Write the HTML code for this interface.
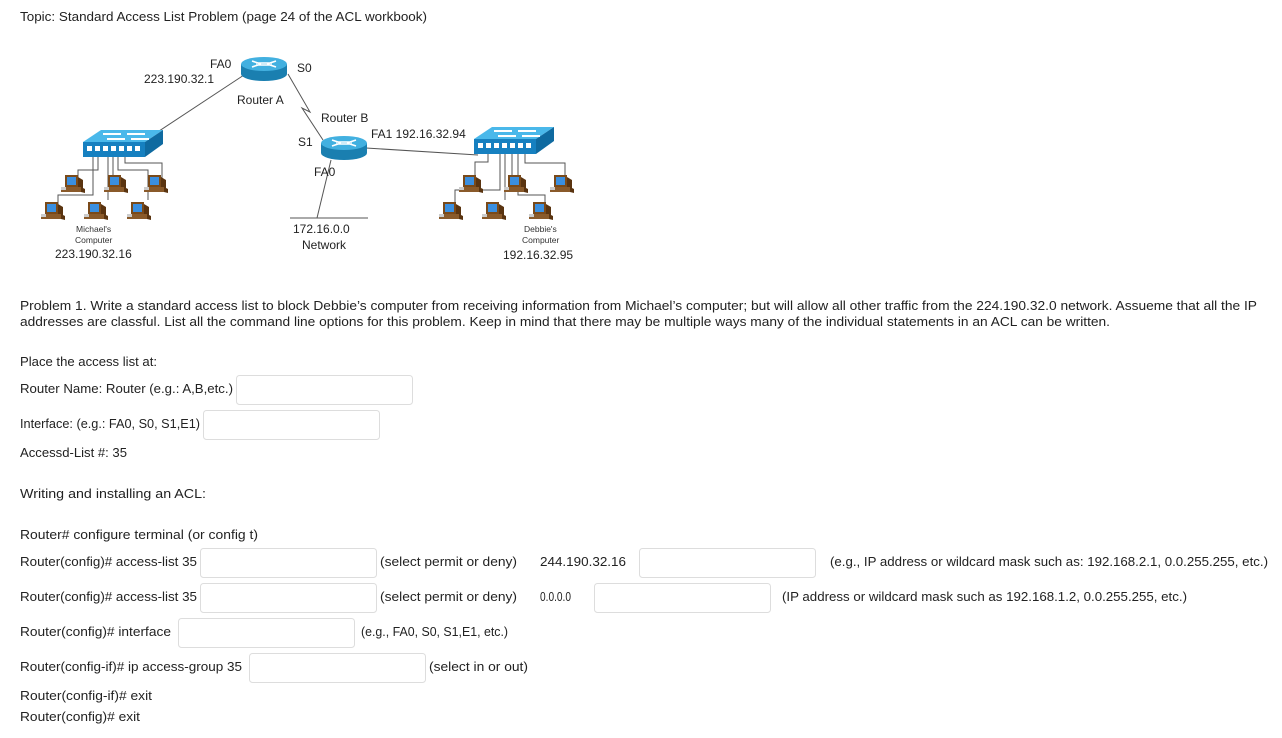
<!DOCTYPE html>
<html><head><meta charset="utf-8"><style>
html,body{margin:0;padding:0;background:#fff;}
svg{display:block;}
.t{font-family:"Liberation Sans",Arial,sans-serif;font-size:12.5px;fill:#222;}
.d{font-family:"Liberation Sans",Arial,sans-serif;font-size:12px;fill:#222;}
.s{font-family:"Liberation Sans",Arial,sans-serif;font-size:8.5px;fill:#333;}
.box{fill:#fff;stroke:#ddd;stroke-width:1;}
</style></head><body>
<svg width="1282" height="738" viewBox="0 0 1282 738" xmlns="http://www.w3.org/2000/svg">
<defs>
<g id="pc">
  <rect x="4" y="0" width="13" height="12" fill="#7a4a1a"/>
  <rect x="6" y="2" width="9" height="8" fill="#3a8fe0"/>
  <polygon points="17,2 22,5 22,15 17,12" fill="#5a3410"/>
  <rect x="0" y="12" width="20" height="5" fill="#8a5a2a"/>
  <polygon points="20,12 24,14 24,18 20,17" fill="#5a3410"/>
  <rect x="0" y="12" width="5" height="3" fill="#ccc"/>
</g>
<g id="router">
  <rect x="-23" y="0" width="46" height="10" fill="#1a7fb0"/>
  <ellipse cx="0" cy="10" rx="23" ry="7" fill="#1a7fb0"/>
  <ellipse cx="0" cy="0" rx="23" ry="7" fill="#42b0e0"/>
  <path d="M-12,-3 L-3,0 M-12,3 L-3,0 M12,-3 L3,0 M12,3 L3,0 M-8,-1 L8,-1 M-8,1 L8,1" stroke="#fff" stroke-width="1.6"/>
</g>
<g id="switch">
  <polygon points="0,12 18,0 80,0 62,12" fill="#4ab8ea"/>
  <rect x="0" y="12" width="62" height="15" fill="#1680c0"/>
  <polygon points="62,12 80,0 80,14 62,27" fill="#0f6aa0"/>
  <path d="M20,4 L38,4 M24,9 L42,9 M44,4 L62,4 M48,9 L66,9" stroke="#fff" stroke-width="2"/>
  <g fill="#fff"><rect x="4" y="16" width="5" height="5"/><rect x="12" y="16" width="5" height="5"/><rect x="20" y="16" width="5" height="5"/><rect x="28" y="16" width="5" height="5"/><rect x="36" y="16" width="5" height="5"/><rect x="44" y="16" width="5" height="5"/><rect x="52" y="16" width="5" height="5"/></g>
</g>
</defs>

<text class="t" x="20" y="21" textLength="407" lengthAdjust="spacingAndGlyphs">Topic: Standard Access List Problem (page 24 of the ACL workbook)</text>

<g stroke="#555" stroke-width="1" fill="none">
  <line x1="150" y1="137" x2="244" y2="75"/>
  <polyline points="288,74 310,112 302,108 323,140"/>
  <line x1="366" y1="148" x2="478" y2="155"/>
  <line x1="331" y1="160" x2="317" y2="218"/>
  <line x1="290" y1="218" x2="368" y2="218"/>
  <polyline points="98,153 98,170 78,170 78,178"/>
  <polyline points="93,153 93,195 58,195 58,205"/>
  <polyline points="108,153 108,200"/>
  <polyline points="113,153 113,178"/>
  <polyline points="118,153 118,170 148,170 148,200"/>
  <polyline points="125,153 125,163 162,163 162,178"/>
  <polyline points="488,152 488,162 475,162 475,178"/>
  <polyline points="500,152 500,190 455,190 455,205"/>
  <polyline points="505,152 505,200"/>
  <polyline points="512,152 512,178"/>
  <polyline points="518,152 518,195 545,195 545,205"/>
  <polyline points="525,152 525,163 565,163 565,178"/>
</g>
<use href="#router" x="264" y="64"/>
<use href="#router" x="344" y="143"/>
<use href="#switch" x="83" y="130"/>
<use href="#switch" x="474" y="127"/>
<use href="#pc" x="61" y="175"/><use href="#pc" x="104" y="175"/><use href="#pc" x="144" y="175"/>
<use href="#pc" x="41" y="202"/><use href="#pc" x="84" y="202"/><use href="#pc" x="127" y="202"/>
<use href="#pc" x="459" y="175"/><use href="#pc" x="504" y="175"/><use href="#pc" x="550" y="175"/>
<use href="#pc" x="439" y="202"/><use href="#pc" x="482" y="202"/><use href="#pc" x="529" y="202"/>

<text class="d" x="210" y="68">FA0</text>
<text class="d" x="144" y="83">223.190.32.1</text>
<text class="d" x="297" y="72">S0</text>
<text class="d" x="237" y="104">Router A</text>
<text class="d" x="321" y="122">Router B</text>
<text class="d" x="298" y="146">S1</text>
<text class="d" x="371" y="138">FA1 192.16.32.94</text>
<text class="d" x="314" y="176">FA0</text>
<text class="d" x="293" y="233">172.16.0.0</text>
<text class="d" x="302" y="249">Network</text>
<text class="s" x="76" y="232">Michael's</text>
<text class="s" x="75" y="243">Computer</text>
<text class="d" x="55" y="258">223.190.32.16</text>
<text class="s" x="524" y="232">Debbie's</text>
<text class="s" x="522" y="243">Computer</text>
<text class="d" x="503" y="259">192.16.32.95</text>

<text class="t" x="20" y="310" textLength="1237" lengthAdjust="spacingAndGlyphs">Problem 1. Write a standard access list to block Debbie’s computer from receiving information from Michael’s computer; but will allow all other traffic from the 224.190.32.0 network. Assueme that all the IP</text>
<text class="t" x="20" y="326" textLength="1090" lengthAdjust="spacingAndGlyphs">addresses are classful. List all the command line options for this problem. Keep in mind that there may be multiple ways many of the individual statements in an ACL can be written.</text>

<text class="t" x="20" y="366" textLength="137" lengthAdjust="spacingAndGlyphs">Place the access list at:</text>
<text class="t" x="20" y="393" textLength="213" lengthAdjust="spacingAndGlyphs">Router Name: Router (e.g.: A,B,etc.)</text>
<rect class="box" x="236.5" y="375.5" width="176" height="29" rx="3"/>
<text class="t" x="20" y="428" textLength="180" lengthAdjust="spacingAndGlyphs">Interface: (e.g.: FA0, S0, S1,E1)</text>
<rect class="box" x="203.5" y="410.5" width="176" height="29" rx="3"/>
<text class="t" x="20" y="457" textLength="107" lengthAdjust="spacingAndGlyphs">Accessd-List #: 35</text>
<text class="t" x="20" y="498" textLength="186" lengthAdjust="spacingAndGlyphs">Writing and installing an ACL:</text>
<text class="t" x="20" y="539" textLength="238" lengthAdjust="spacingAndGlyphs">Router# configure terminal (or config t)</text>

<text class="t" x="20" y="566" textLength="177" lengthAdjust="spacingAndGlyphs">Router(config)# access-list 35</text>
<rect class="box" x="200.5" y="548.5" width="176" height="29" rx="3"/>
<text class="t" x="380" y="566" textLength="137" lengthAdjust="spacingAndGlyphs">(select permit or deny)</text>
<text class="t" x="540" y="566" textLength="86" lengthAdjust="spacingAndGlyphs">244.190.32.16</text>
<rect class="box" x="639.5" y="548.5" width="176" height="29" rx="3"/>
<text class="t" x="830" y="566" textLength="438" lengthAdjust="spacingAndGlyphs">(e.g., IP address or wildcard mask such as: 192.168.2.1,  0.0.255.255, etc.)</text>

<text class="t" x="20" y="601" textLength="177" lengthAdjust="spacingAndGlyphs">Router(config)# access-list 35</text>
<rect class="box" x="200.5" y="583.5" width="176" height="29" rx="3"/>
<text class="t" x="380" y="601" textLength="137" lengthAdjust="spacingAndGlyphs">(select permit or deny)</text>
<text class="t" x="540" y="601" textLength="31" lengthAdjust="spacingAndGlyphs">0.0.0.0</text>
<rect class="box" x="594.5" y="583.5" width="176" height="29" rx="3"/>
<text class="t" x="782" y="601" textLength="405" lengthAdjust="spacingAndGlyphs">(IP address or wildcard mask such as 192.168.1.2, 0.0.255.255, etc.)</text>

<text class="t" x="20" y="636" textLength="151" lengthAdjust="spacingAndGlyphs">Router(config)# interface</text>
<rect class="box" x="178.5" y="618.5" width="176" height="29" rx="3"/>
<text class="t" x="361" y="636" textLength="147" lengthAdjust="spacingAndGlyphs">(e.g., FA0, S0, S1,E1, etc.)</text>

<text class="t" x="20" y="671" textLength="222" lengthAdjust="spacingAndGlyphs">Router(config-if)# ip access-group 35</text>
<rect class="box" x="249.5" y="653.5" width="176" height="29" rx="3"/>
<text class="t" x="429" y="671" textLength="99" lengthAdjust="spacingAndGlyphs">(select in or out)</text>

<text class="t" x="20" y="700" textLength="132" lengthAdjust="spacingAndGlyphs">Router(config-if)# exit</text>
<text class="t" x="20" y="721" textLength="120" lengthAdjust="spacingAndGlyphs">Router(config)# exit</text>
</svg>
</body></html>
